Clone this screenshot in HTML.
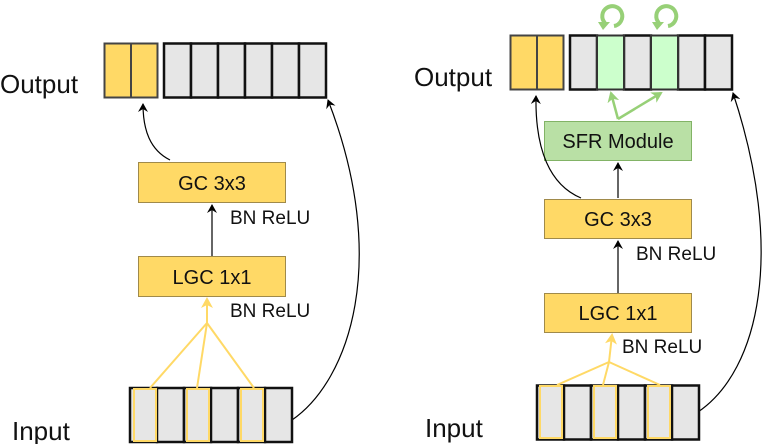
<!DOCTYPE html>
<html><head><meta charset="utf-8"><style>
html,body{margin:0;padding:0;background:#fff}
svg{display:block}
text{font-family:"Liberation Sans",Arial,sans-serif;fill:#111}
</style></head><body>
<svg width="775" height="444" viewBox="0 0 775 444" xmlns="http://www.w3.org/2000/svg">
<defs>
<marker id="ab" markerWidth="10" markerHeight="10" refX="8" refY="5" orient="auto" markerUnits="userSpaceOnUse"><path d="M0,0 L9,5 L0,10 L3,5 z" fill="#000"/></marker>
<marker id="ay" markerWidth="12" markerHeight="12" refX="9" refY="6" orient="auto" markerUnits="userSpaceOnUse"><path d="M0,0 L11,6 L0,12 L3,6 z" fill="#ffd966"/></marker>
<marker id="ag" markerWidth="12" markerHeight="12" refX="9" refY="6" orient="auto" markerUnits="userSpaceOnUse"><path d="M0,0 L11,6 L0,12 L3,6 z" fill="#97d077"/></marker>
</defs>

<!-- LEFT -->
<text x="0" y="93" font-size="26">Output</text>
<g stroke="#444" stroke-width="2">
<rect x="104.5" y="43.5" width="26.5" height="54" fill="#ffd966"/>
<rect x="131" y="43.5" width="26.5" height="54" fill="#ffd966"/>
</g>
<g stroke="#111" stroke-width="2.5" fill="#e6e6e6">
<rect x="164" y="43.5" width="27" height="54"/><rect x="191" y="43.5" width="27" height="54"/><rect x="218" y="43.5" width="27" height="54"/><rect x="245" y="43.5" width="27" height="54"/><rect x="272" y="43.5" width="27" height="54"/><rect x="299" y="43.5" width="27" height="54"/>
</g>
<rect x="138.5" y="162.5" width="147" height="40" fill="#ffd966" stroke="#a08a4a"/>
<text x="212" y="190" font-size="20" text-anchor="middle">GC 3x3</text>
<text x="230" y="224" font-size="19">BN ReLU</text>
<rect x="138.5" y="256.5" width="147" height="40" fill="#ffd966" stroke="#a08a4a"/>
<text x="212" y="284" font-size="20" text-anchor="middle">LGC 1x1</text>
<text x="230" y="317" font-size="19">BN ReLU</text>
<line x1="212" y1="256" x2="212" y2="205" stroke="#000" stroke-width="1.2" marker-end="url(#ab)"/>
<path d="M170,160 C150,150 143,130 143,104" fill="none" stroke="#000" stroke-width="1.2" marker-end="url(#ab)"/>
<path d="M292,420 C350,380 390,260 328,100" fill="none" stroke="#000" stroke-width="1.2" marker-end="url(#ab)"/>
<g stroke="#111" stroke-width="2.5" fill="#e6e6e6">
<rect x="130" y="388" width="27" height="54"/><rect x="157" y="388" width="27" height="54"/><rect x="184" y="388" width="27" height="54"/><rect x="211" y="388" width="27" height="54"/><rect x="238" y="388" width="27" height="54"/><rect x="265" y="388" width="27" height="54"/>
</g>
<g stroke="#ffd966" stroke-width="2" fill="none">
<rect x="134" y="389" width="22" height="52"/><rect x="187" y="389" width="22" height="52"/><rect x="241" y="389" width="22" height="52"/>
<line x1="207" y1="323" x2="150" y2="388"/><line x1="207" y1="323" x2="197" y2="388"/><line x1="207" y1="323" x2="254" y2="388"/>
</g>
<line x1="207" y1="323" x2="207" y2="299" stroke="#ffd966" stroke-width="2" marker-end="url(#ay)"/>
<text x="12" y="440" font-size="26">Input</text>

<!-- RIGHT -->
<text x="414" y="86" font-size="26">Output</text>
<g stroke="#444" stroke-width="2">
<rect x="510.5" y="35.5" width="26.5" height="54" fill="#ffd966"/>
<rect x="537" y="35.5" width="26.5" height="54" fill="#ffd966"/>
</g>
<g stroke="#111" stroke-width="2.5" fill="#e6e6e6">
<rect x="570" y="35.5" width="27" height="54"/><rect x="624" y="35.5" width="27" height="54"/><rect x="678" y="35.5" width="27" height="54"/><rect x="705" y="35.5" width="27" height="54"/>
</g>
<g stroke="#333" stroke-width="2" fill="#ccffcc">
<rect x="597" y="35.5" width="27" height="54"/><rect x="651" y="35.5" width="27" height="54"/>
</g>
<g fill="none" stroke="#97d077" stroke-width="4">
<path d="M605,23 A10,10 0 1 1 614,26"/>
<path d="M659,23 A10,10 0 1 1 668,26"/>
</g>
<path d="M598,22 L610,22 L603,30 z" fill="#97d077"/>
<path d="M652,22 L664,22 L657,30 z" fill="#97d077"/>
<rect x="544.5" y="121.5" width="147" height="39" fill="#b9e0a5" stroke="#82b366"/>
<text x="618" y="148" font-size="20" text-anchor="middle">SFR Module</text>
<line x1="618" y1="119" x2="611" y2="93" stroke="#97d077" stroke-width="2.5" marker-end="url(#ag)"/>
<line x1="618" y1="119" x2="661" y2="93" stroke="#97d077" stroke-width="2.5" marker-end="url(#ag)"/>
<rect x="544.5" y="199.5" width="147" height="39" fill="#ffd966" stroke="#a08a4a"/>
<text x="618" y="226" font-size="20" text-anchor="middle">GC 3x3</text>
<text x="636" y="260" font-size="19">BN ReLU</text>
<line x1="618" y1="198" x2="618" y2="163" stroke="#000" stroke-width="1.2" marker-end="url(#ab)"/>
<rect x="544.5" y="293.5" width="147" height="39" fill="#ffd966" stroke="#a08a4a"/>
<text x="618" y="320" font-size="20" text-anchor="middle">LGC 1x1</text>
<text x="622" y="353" font-size="19">BN ReLU</text>
<line x1="618" y1="293" x2="618" y2="241" stroke="#000" stroke-width="1.2" marker-end="url(#ab)"/>
<path d="M581,198 C550,185 535,150 536,96" fill="none" stroke="#000" stroke-width="1.2" marker-end="url(#ab)"/>
<path d="M698,412 C760,370 785,250 733,93" fill="none" stroke="#000" stroke-width="1.2" marker-end="url(#ab)"/>
<g stroke="#111" stroke-width="2.5" fill="#e6e6e6">
<rect x="537" y="385.5" width="27" height="54"/><rect x="564" y="385.5" width="27" height="54"/><rect x="591" y="385.5" width="27" height="54"/><rect x="618" y="385.5" width="27" height="54"/><rect x="645" y="385.5" width="27" height="54"/><rect x="672" y="385.5" width="27" height="54"/>
</g>
<g stroke="#ffd966" stroke-width="2" fill="none">
<rect x="540" y="386" width="22" height="52"/><rect x="594" y="386" width="22" height="52"/><rect x="648" y="386" width="22" height="52"/>
<line x1="609" y1="362" x2="557" y2="385"/><line x1="609" y1="362" x2="603" y2="385"/><line x1="609" y1="362" x2="660" y2="385"/>
</g>
<line x1="609" y1="362" x2="612" y2="335" stroke="#ffd966" stroke-width="2" marker-end="url(#ay)"/>
<text x="425" y="437" font-size="26">Input</text>
</svg>
</body></html>
